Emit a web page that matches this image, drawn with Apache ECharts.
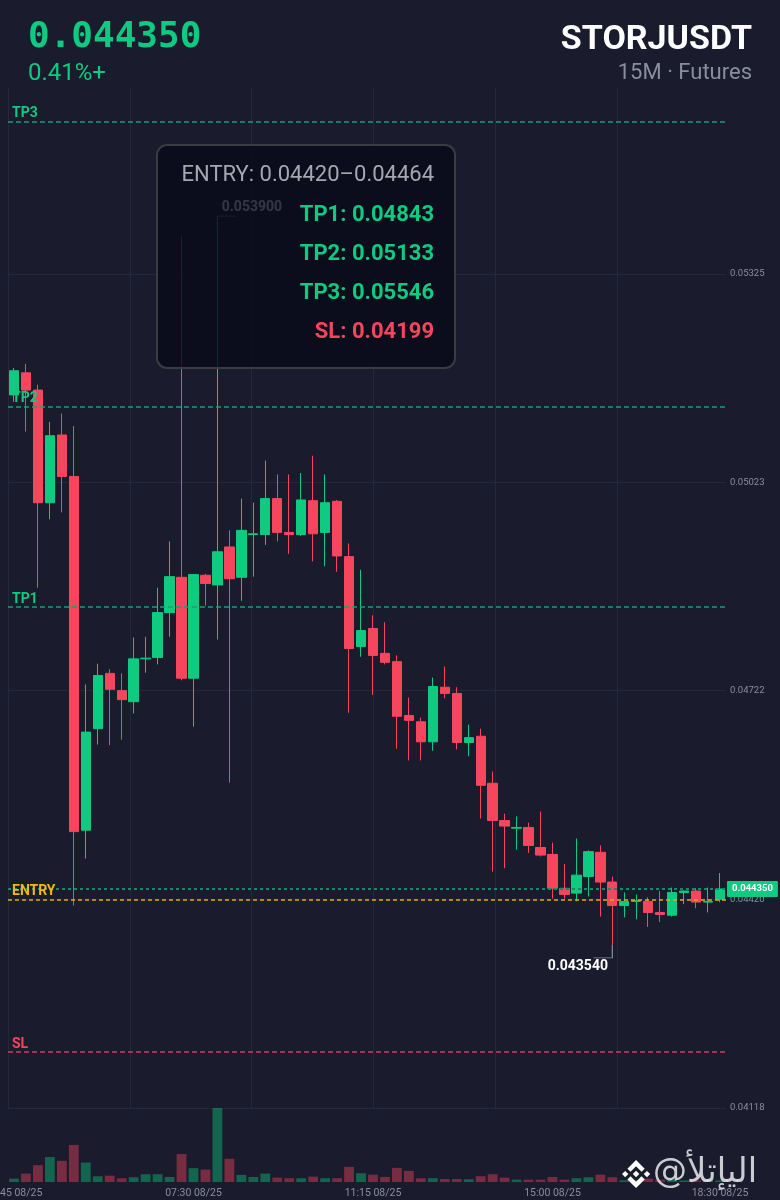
<!DOCTYPE html>
<html><head><meta charset="utf-8">
<script src="https://cdn.jsdelivr.net/npm/echarts@6/dist/echarts.min.js"></script>
<style>html,body{margin:0;padding:0;background:#1a1b2d;}#c{width:780px;height:1200px;}</style>
</head><body><div id="c"></div>
<script>
const times = ['03:45 08/25','04:00 08/25','04:15 08/25','04:30 08/25','04:45 08/25','05:00 08/25','05:15 08/25','05:30 08/25','05:45 08/25','06:00 08/25',
'06:15 08/25','06:30 08/25','06:45 08/25','07:00 08/25','07:15 08/25','07:30 08/25','07:45 08/25','08:00 08/25','08:15 08/25','08:30 08/25',
'08:45 08/25','09:00 08/25','09:15 08/25','09:30 08/25','09:45 08/25','10:00 08/25','10:15 08/25','10:30 08/25','10:45 08/25','11:00 08/25',
'11:15 08/25','11:30 08/25','11:45 08/25','12:00 08/25','12:15 08/25','12:30 08/25','12:45 08/25','13:00 08/25','13:15 08/25','13:30 08/25',
'13:45 08/25','14:00 08/25','14:15 08/25','14:30 08/25','14:45 08/25','15:00 08/25','15:15 08/25','15:30 08/25','15:45 08/25','16:00 08/25',
'16:15 08/25','16:30 08/25','16:45 08/25','17:00 08/25','17:15 08/25','17:30 08/25','17:45 08/25','18:00 08/25','18:15 08/25','18:30 08/25'];
const opens = [0.05150,0.05182,0.05157,0.04994,0.05092,0.05032,0.04520,0.04667,0.04747,0.04722,
0.04706,0.04768,0.04770,0.04835,0.04886,0.04740,0.04889,0.04875,0.04930,0.04886,
0.04948,0.04948,0.05000,0.04951,0.04948,0.04997,0.04951,0.04996,0.04916,0.04786,
0.04812,0.04776,0.04764,0.04686,0.04677,0.04648,0.04727,0.04718,0.04647,0.04656,
0.04588,0.04534,0.04523,0.04524,0.04495,0.04485,0.04436,0.04429,0.04453,0.04488,
0.04445,0.04411,0.04417,0.04417,0.04401,0.04397,0.04430,0.04432,0.04416,0.04420];
const closes = [0.05185,0.05157,0.04994,0.05091,0.05032,0.04518,0.04662,0.04744,0.04724,0.04709,
0.04768,0.04769,0.04835,0.04887,0.04740,0.04890,0.04877,0.04923,0.04884,0.04954,
0.04949,0.05000,0.04951,0.04948,0.04998,0.04949,0.04994,0.04917,0.04783,0.04809,
0.04773,0.04763,0.04685,0.04679,0.04648,0.04728,0.04718,0.04647,0.04654,0.04585,
0.04534,0.04526,0.04524,0.04498,0.04484,0.04436,0.04427,0.04455,0.04489,0.04445,
0.04411,0.04417,0.04418,0.04401,0.04398,0.04430,0.04432,0.04416,0.04417,0.04435];
const lows = [0.05140,0.05097,0.04871,0.04970,0.04980,0.04411,0.04479,0.04644,0.04643,0.04651,
0.04689,0.04748,0.04760,0.04800,0.04737,0.04670,0.04845,0.04796,0.04589,0.04852,
0.04887,0.04933,0.04938,0.04920,0.04946,0.04909,0.04902,0.04894,0.04690,0.04771,
0.04716,0.04760,0.04638,0.04621,0.04621,0.04635,0.04711,0.04637,0.04627,0.04537,
0.04460,0.04465,0.04492,0.04487,0.04482,0.04421,0.04421,0.04417,0.04424,0.04395,
0.04354,0.04394,0.04391,0.04380,0.04387,0.04395,0.04413,0.04407,0.04401,0.04416];
const highs = [0.05189,0.05195,0.05165,0.05111,0.05123,0.05105,0.04731,0.04761,0.04753,0.04747,
0.04799,0.04800,0.04871,0.04938,0.05380,0.04891,0.04891,0.05390,0.04954,0.05000,
0.04994,0.05055,0.05035,0.05035,0.05037,0.05062,0.05035,0.04998,0.04935,0.04897,
0.04831,0.04821,0.04773,0.04712,0.04683,0.04741,0.04757,0.04727,0.04673,0.04667,
0.04605,0.04544,0.04540,0.04531,0.04547,0.04502,0.04471,0.04508,0.04491,0.04498,
0.04453,0.04430,0.04427,0.04423,0.04432,0.04437,0.04433,0.04436,0.04437,0.04458];
const volumes = [33,83,167,247,210,367,193,57,63,37,
47,77,77,50,277,137,123,733,230,70,
50,83,43,37,37,53,37,37,150,87,
73,50,140,110,37,37,30,30,27,57,
77,43,23,23,23,50,23,37,47,73,
47,17,17,33,23,23,15,15,20,15];
const priceTicks = [0.04118,0.04420,0.04722,0.05023,0.05325];
const levelNames = ['TP3','TP2','TP1','ENTRY','SL'];
const levelValues = [0.05546,0.05133,0.04843,0.04420,0.04199];
const entryHigh = 0.04464;
const lastPrice = 0.044350;
const changePct = 0.41;
const symbolName = 'STORJUSDT';
const subTitle = '15M · Futures';
const watermark = '@اليإتلأ';

const GREEN = '#0ecb81', RED = '#f6465d', YELLOW = '#f0b90b';
const FONT = 'Roboto';
const levelColor = n => n === 'ENTRY' ? YELLOW : (n === 'SL' ? RED : GREEN);
const levelLine = n => n === 'ENTRY' ? {color: '#e3aa16', width: 1.5, type: [4, 3]}
  : (n === 'SL' ? {color: '#c8405a', width: 1.5, type: [5, 3]} : {color: '#17a078', width: 1.5, type: [5, 3]});

const candleData = opens.map((o, i) => [o, closes[i], lows[i], highs[i]]);
let hiIdx = 0, loIdx = 0;
highs.forEach((h, i) => { if (h > highs[hiIdx]) hiIdx = i; });
lows.forEach((l, i) => { if (l < lows[loIdx]) loIdx = i; });

const logoPieces = [
  [[38.73,53.2],[63.32,28.62],[87.92,53.22],[102.22,38.91],[63.32,0],[24.42,38.9]],
  [[0,63.31],[14.3,49],[28.61,63.31],[14.3,77.61]],
  [[38.73,73.41],[63.32,98],[87.92,73.4],[102.23,87.69],[63.32,126.6],[24.41,87.72]],
  [[98.28,63.31],[112.58,49],[126.89,63.3],[112.58,77.62]],
  [[77.83,63.3],[63.32,48.78],[48.81,63.3],[63.32,77.82]]
];

const chart = echarts.init(document.getElementById('c'), null, {renderer: 'canvas'});

const levelSeries = levelNames.map((n, i) => ({
  type: 'line', name: n, xAxisIndex: 0, yAxisIndex: 0, data: [], silent: true, z: 3,
  color: levelLine(n).color,
  markLine: {
    symbol: ['none', 'none'], silent: true, animation: false, precision: 6,
    lineStyle: Object.assign({opacity: 1}, levelLine(n)),
    label: {show: true, position: 'insideStartTop', distance: [4, 1], formatter: n,
      color: levelColor(n), fontWeight: 'bold', fontSize: 14, fontFamily: FONT},
    data: [{yAxis: levelValues[i]}]
  }
}));
levelSeries.push({
  type: 'line', name: 'last', xAxisIndex: 0, yAxisIndex: 0, data: [], silent: true, z: 3,
  color: GREEN,
  markLine: {
    symbol: ['none', 'none'], silent: true, animation: false, precision: 6,
    lineStyle: {color: '#148a66', type: [3, 3], width: 2, opacity: 1},
    label: {show: true, position: 'end', distance: 1, formatter: lastPrice.toFixed(6),
      backgroundColor: GREEN, color: '#ffffff', fontWeight: 'bold', fontSize: 9.5, fontFamily: FONT,
      padding: [3, 5], borderRadius: 1},
    data: [{yAxis: lastPrice}]
  }
});

const markLbl = {show: true, position: 'inside', color: '#ffffff', fontWeight: 'bold', fontSize: 14, fontFamily: FONT};

const option = {
  backgroundColor: '#1a1b2d',
  animation: false,
  grid: [
    {left: 8, right: 54, top: 88, bottom: 92, outerBoundsMode: 'none', containLabel: false},
    {left: 8, right: 54, top: 1108, bottom: 18, outerBoundsMode: 'none', containLabel: false}
  ],
  xAxis: [
    {type: 'category', gridIndex: 0, data: times, boundaryGap: true,
      axisLine: {show: false}, axisTick: {show: false}, axisLabel: {show: false}, splitLine: {show: false}},
    {type: 'category', gridIndex: 1, data: times, boundaryGap: true,
      axisLine: {show: false}, axisTick: {show: false}, splitLine: {show: false},
      axisLabel: {show: true, interval: (idx) => idx % 15 === 0 || idx === times.length - 1,
        color: '#8b8e9b', fontSize: 10.5, fontFamily: FONT, margin: 6}},
    {type: 'value', gridIndex: 0, min: 0, max: 5.895, position: 'top',
      axisLine: {show: false}, axisLabel: {show: false},
      axisTick: {show: false, customValues: [0, 1, 2, 3, 4, 5]},
      splitLine: {show: true, lineStyle: {color: '#25273a', width: 1}}}
  ],
  yAxis: [
    {type: 'value', gridIndex: 0, position: 'right', min: 0.04118, max: 0.055942,
      axisLine: {show: false},
      axisTick: {show: false, customValues: priceTicks},
      axisLabel: {show: true, customValues: priceTicks, formatter: v => v.toFixed(5),
        color: '#8b8e9b', fontSize: 9.5, fontFamily: FONT, margin: 4},
      splitLine: {show: true, lineStyle: {color: '#25273a', width: 1}}},
    {type: 'value', gridIndex: 1, min: 0, max: 'dataMax', show: false, splitLine: {show: false}}
  ],
  series: [
    {type: 'line', xAxisIndex: 2, yAxisIndex: 0, data: [], silent: true},
    {
      type: 'candlestick', xAxisIndex: 0, yAxisIndex: 0, data: candleData, barWidth: '82%',
      itemStyle: {color: GREEN, color0: RED, borderColor: GREEN, borderColor0: RED, borderWidth: 1},
      markPoint: {silent: true, animation: false, data: [
        {coord: [hiIdx, highs[hiIdx]], value: highs[hiIdx],
          symbol: 'path://M0,12L0,0L19,0', symbolSize: [19, 13], symbolOffset: [9.5, -6.5],
          itemStyle: {color: 'rgba(0,0,0,0)', borderColor: '#8a8c96', borderWidth: 1},
          label: Object.assign({}, markLbl, {offset: [25, -15], formatter: highs[hiIdx].toFixed(6)})},
        {coord: [loIdx, lows[loIdx]], value: lows[loIdx],
          symbol: 'path://M19,0L19,12L0,12', symbolSize: [19, 13], symbolOffset: [-9.5, 6.5],
          itemStyle: {color: 'rgba(0,0,0,0)', borderColor: '#8a8c96', borderWidth: 1},
          label: Object.assign({}, markLbl, {offset: [-25, 15], formatter: lows[loIdx].toFixed(6)})}
      ]}
    },
    ...levelSeries,
    {
      type: 'bar', xAxisIndex: 1, yAxisIndex: 1, data: volumes, barWidth: '82%',
      itemStyle: {color: p => closes[p.dataIndex] >= opens[p.dataIndex] ? 'rgba(14,203,129,0.42)' : 'rgba(246,70,93,0.42)'}
    }
  ],
  graphic: [
    {type: 'text', x: 28, y: 38, z: 100, style: {text: lastPrice.toFixed(6), fill: GREEN,
      font: 'bold 36px "DejaVu Sans Mono"', align: 'left', verticalAlign: 'middle'}},
    {type: 'text', x: 28, y: 74, z: 100, style: {text: changePct.toFixed(2) + '%+', fill: GREEN,
      font: '24px ' + FONT, align: 'left', verticalAlign: 'middle'}},
    {type: 'text', x: 752, y: 40, z: 100, style: {text: symbolName, fill: '#ffffff',
      font: 'bold 34px ' + FONT, align: 'right', verticalAlign: 'middle'}},
    {type: 'text', x: 752, y: 73, z: 100, style: {text: subTitle, fill: '#8a8d9c',
      font: '22px ' + FONT, align: 'right', verticalAlign: 'middle'}},
    {type: 'rect', x: 157, y: 145, z: 100, shape: {width: 298, height: 223, r: 10},
      style: {fill: 'rgba(9,10,24,0.82)', stroke: '#3b3b40', lineWidth: 2}},
    {type: 'text', x: 434, y: 175, z: 101, style: {text: 'ENTRY: ' + levelValues[3].toFixed(5) + '–' + entryHigh.toFixed(5),
      fill: '#a6a7b0', font: '22px ' + FONT, align: 'right', verticalAlign: 'middle'}},
    {type: 'text', x: 434, y: 215, z: 101, style: {text: 'TP1: ' + levelValues[2].toFixed(5),
      fill: GREEN, font: 'bold 22px ' + FONT, align: 'right', verticalAlign: 'middle'}},
    {type: 'text', x: 434, y: 254, z: 101, style: {text: 'TP2: ' + levelValues[1].toFixed(5),
      fill: GREEN, font: 'bold 22px ' + FONT, align: 'right', verticalAlign: 'middle'}},
    {type: 'text', x: 434, y: 293, z: 101, style: {text: 'TP3: ' + levelValues[0].toFixed(5),
      fill: GREEN, font: 'bold 22px ' + FONT, align: 'right', verticalAlign: 'middle'}},
    {type: 'text', x: 434, y: 332, z: 101, style: {text: 'SL: ' + levelValues[4].toFixed(5),
      fill: RED, font: 'bold 22px ' + FONT, align: 'right', verticalAlign: 'middle'}},
    {type: 'group', x: 622, y: 1160, scaleX: 0.222, scaleY: 0.222, z: 100,
      children: logoPieces.map(pts => ({type: 'polygon', z: 100, shape: {points: pts}, style: {fill: '#ffffff'}}))},
    {type: 'text', x: 653, y: 1173, z: 100, style: {text: watermark, fill: 'rgba(235,235,240,0.85)',
      font: '34px "DejaVu Sans"', align: 'left', verticalAlign: 'middle'}}
  ]
};
chart.setOption(option);
</script>
</body></html>
